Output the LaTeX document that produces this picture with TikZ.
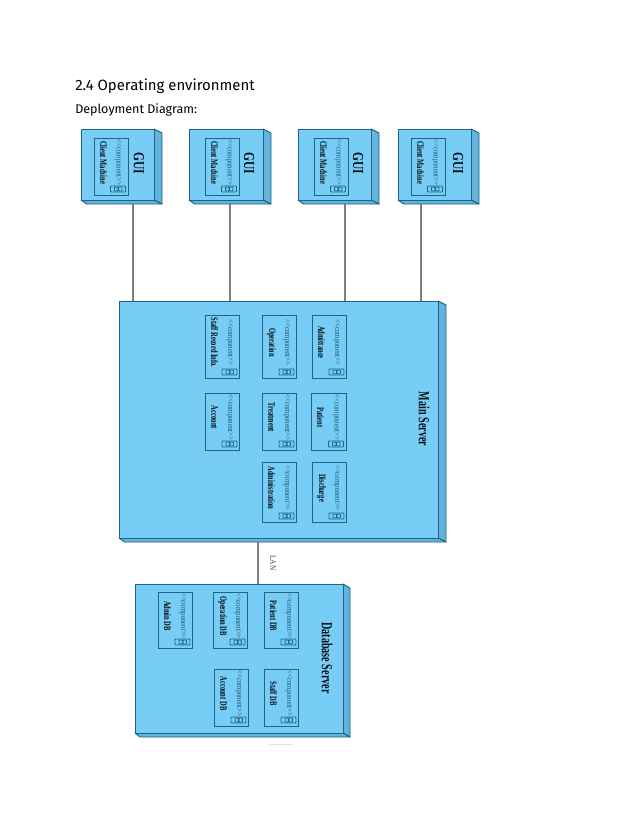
\documentclass[tikz,border=0pt]{standalone}
\usepackage{fontspec}
\usepackage{graphicx}
\setmainfont{Fira Sans}
\newfontfamily\umlfont{Liberation Serif}
\definecolor{nodeblue}{HTML}{78CDF6}
\definecolor{sideblue}{HTML}{62B4DC}
\definecolor{edgeblue}{HTML}{1F6484}
\definecolor{stereoblue}{HTML}{1D5570}
\definecolor{wiregray}{HTML}{808080}
\definecolor{smudge}{HTML}{E2E2E2}
\newcommand{\narrowtext}[2]{\scalebox{#1}[1]{#2}}
\tikzset{
  x=0.75pt,y=-0.75pt,
  front/.style={draw=edgeblue,line width=0.7pt,fill=nodeblue},
  sideface/.style={draw=edgeblue,line width=0.7pt,fill=sideblue,line join=round},
  comp/.style={draw=edgeblue,line width=0.8pt,fill=nodeblue},
  iconpart/.style={draw=edgeblue,line width=0.6pt,fill=nodeblue,rounded corners=0.6pt},
  wire/.style={draw=wiregray,line width=0.95pt},
  stereo/.style={rotate=-90,inner sep=0pt,font=\umlfont\fontsize{6.2}{6.2}\selectfont,text=stereoblue},
  compname/.style={rotate=-90,inner sep=0pt,font=\umlfont\bfseries\fontsize{7.4}{7.4}\selectfont,text=black!85!edgeblue},
  nodename/.style={rotate=-90,inner sep=0pt,font=\umlfont\bfseries\fontsize{11.5}{11.5}\selectfont,text=black!85!edgeblue},
  heading/.style={anchor=base west,inner sep=0pt}
}
% \boxnode{name}{x1}{y1}{x2}{y2}{depth}
\newcommand{\boxnode}[6]{%
  \path[sideface] (#4,#3) -- (#4+#6,#3+4) -- (#4+#6,#5+4) -- (#4,#5) -- cycle;
  \path[sideface] (#2,#5) -- (#2+#6*0.7,#5+4) -- (#4+#6,#5+4) -- (#4,#5) -- cycle;
  \path[front] (#2,#3) rectangle (#4,#5);
}
% \compbox{name}{x1}{y1}{x2}{y2}{label}
\newcommand{\compbox}[6]{%
  \node[comp,inner sep=0pt,minimum width={(#4-#2)*0.75pt},minimum height={(#5-#3)*0.75pt},anchor=north west] (#1) at (#2,#3) {};
  \path[iconpart] (#4-17,#5-9) rectangle (#4-2,#5-3);
  \path[iconpart] (#4-13,#5-8) rectangle (#4-9.5,#5-4);
  \path[iconpart] (#4-9,#5-8) rectangle (#4-5.5,#5-4);
  \node[stereo] at (#4-9.5,{(#3+#5-8)/2}) {\narrowtext{0.82}{<<component>>}};
  \node[compname] at ({#2+9.5},{(#3+#5-8)/2}) {\narrowtext{0.66}{#6}};
}
\begin{document}
\begin{tikzpicture}
\useasboundingbox (0,0) rectangle (638,826);
\fill[white] (0,0) rectangle (638,826);
\node[heading,font=\fontsize{11.2}{14}\selectfont] (title) at (75,90) {2.4 Operating environment};
\node[heading,font=\fontsize{9.4}{12}\selectfont] (sub) at (75,113) {Deployment Diagram:};

\coordinate (w1a) at (133,203); \coordinate (w1b) at (133,301);
\coordinate (w2a) at (230,203); \coordinate (w2b) at (230,301);
\coordinate (w3a) at (345,203); \coordinate (w3b) at (345,301);
\coordinate (w4a) at (421,203); \coordinate (w4b) at (421,301);
\coordinate (w5a) at (258,542); \coordinate (w5b) at (258,585);
\draw[wire] (w1a) -- (w1b);
\draw[wire] (w2a) -- (w2b);
\draw[wire] (w3a) -- (w3b);
\draw[wire] (w4a) -- (w4b);
\draw[wire] (w5a) -- (w5b);
\node[rotate=-90,inner sep=0pt,font=\umlfont\fontsize{6.5}{6.5}\selectfont,text=black!70] (lan) at (273,563) {\narrowtext{0.85}{LAN}};

\boxnode{g1}{81}{129}{154}{200}{8}
\compbox{c1}{94}{138}{127.5}{195}{Client Machine}
\node[nodename] (g1t) at (139,163) {\narrowtext{0.75}{GUI}};
\boxnode{g2}{189}{129}{263}{200}{8}
\compbox{c2}{205}{138}{238.5}{195}{Client Machine}
\node[nodename] (g2t) at (249,163) {\narrowtext{0.75}{GUI}};
\boxnode{g3}{298}{129}{371}{200}{8}
\compbox{c3}{314}{138}{347.5}{195}{Client Machine}
\node[nodename] (g3t) at (358,163) {\narrowtext{0.75}{GUI}};
\boxnode{g4}{398}{129}{471}{200}{8}
\compbox{c4}{411}{138}{444.5}{195}{Client Machine}
\node[nodename] (g4t) at (458,163) {\narrowtext{0.75}{GUI}};

\boxnode{ms}{119}{301}{438}{538}{8}
\node[nodename] (mst) at (424,419) {\narrowtext{0.66}{Main Server}};
\compbox{m1}{205}{315}{239}{378}{Staff Record Info.}
\compbox{m2}{262}{315}{296}{378}{Operation}
\compbox{m3}{312}{315}{346}{378}{Admittance}
\compbox{m4}{205}{393}{239}{450}{Account}
\compbox{m5}{262}{393}{296}{450}{Treatment}
\compbox{m6}{311}{393}{345.5}{450}{Patient}
\compbox{m7}{262}{462}{296}{522}{Administration}
\compbox{m8}{312}{462}{346}{522}{Discharge}

\boxnode{db}{135}{584}{343}{733}{7}
\node[nodename] (dbt) at (327,658) {\narrowtext{0.66}{Database Server}};
\compbox{d1}{158}{592}{192}{648}{Admin DB}
\compbox{d2}{213}{592}{247}{648}{Operation DB}
\compbox{d3}{264}{592}{298}{648}{Patient DB}
\compbox{d4}{214}{669}{248}{726}{Account DB}
\compbox{d5}{264}{669}{298}{726}{Staff DB}

\fill[smudge] (269,743.5) rectangle (293,745);
\end{tikzpicture}
\end{document}
